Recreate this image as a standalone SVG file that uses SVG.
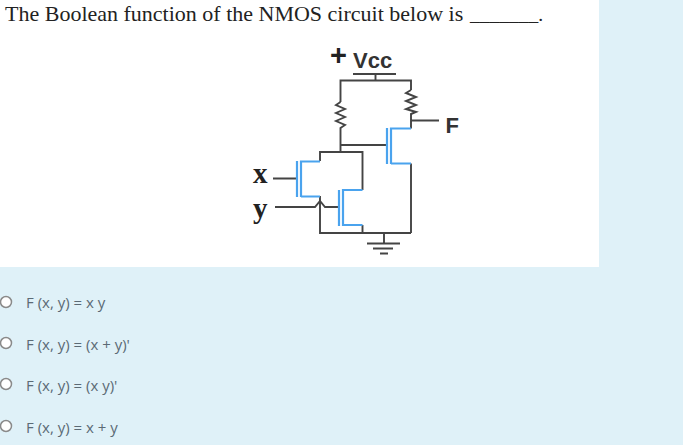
<svg xmlns="http://www.w3.org/2000/svg" width="683" height="445" viewBox="0 0 683 445">
<style>
.w{fill:none;stroke:#444;stroke-width:1.9}
.b{fill:none;stroke:#4aa3ee;stroke-width:2.2}
.o{font:15px "Open Sans",sans-serif;fill:#5b6a75}
.r{fill:#fff;stroke:#8a8a8a;stroke-width:1.5}
.s{font-family:"Liberation Sans",sans-serif;font-weight:bold;fill:#333}
.t{font-family:"Liberation Serif",serif;font-weight:bold;fill:#222}
.q{font-family:"Liberation Serif",serif;fill:#222}
</style>
<rect width="683" height="445" fill="#dff1f8"/>
<rect width="599" height="267" fill="#fff"/>
<g id="question"><text class="q" x="5" y="21" font-size="22">The Boolean function of the NMOS circuit below is</text><text class="q" x="470" y="21" font-size="19.500">_______.</text></g>
<g id="connectors">
<path class="w" d="M353 74H396M375.500 74V80.500M340.500 102V80.500H411V90"/>
<path class="w" d="M340.500 102L336 105L345 109L336 113L345 117L336 121L345 125L340.500 128V152"/>
<path class="w" d="M411 90L406 93L416 97L406 101L416 105L406 109L416 112L411 114V128.500M411 120.500H439"/>
<path class="w" d="M340.500 145H386M320 161V152H362.500V190M411 163.500V233M320 196V233H411M362.500 225V233"/>
<path class="w" d="M273 178.500H296M275 207H315L320 201L325 207H338"/>
<path class="w" d="M384 233V243M367 243.500H400M373 248.500H393M380 253.500H388"/>
<path class="b" d="M387 128V164M391 164V128.500H411M391 163.500H411"/>
<path class="b" d="M297 161V197M301 197V161.500H320M301 196.500H320"/>
<path class="b" d="M339 190V226M343 226V190H362.500M343 225H362.500"/>
</g>
<g id="vcc"><text x="330" y="65" font-family="Liberation Sans,sans-serif" font-size="29" fill="#222" font-weight="bold">+</text><text class="s" x="353" y="68" font-size="22">Vcc</text></g>
<g id="f"><text class="s" x="445.500" y="133" font-size="22">F</text></g>
<g id="x"><text class="t" x="253" y="183" font-size="29">x</text></g>
<g id="y"><text class="t" x="253" y="218" font-size="29">y</text></g>
<g id="opt1"><circle class="r" cx="6" cy="302" r="5.500"/><text class="o" x="26" y="308">F (x, y) = x y</text></g>
<g id="opt2"><circle class="r" cx="6" cy="343" r="5.500"/><text class="o" x="26" y="350">F (x, y) = (x + y)'</text></g>
<g id="opt3"><circle class="r" cx="6" cy="384" r="5.500"/><text class="o" x="26" y="391">F (x, y) = (x y)'</text></g>
<g id="opt4"><circle class="r" cx="6" cy="426" r="5.500"/><text class="o" x="26" y="433">F (x, y) = x + y</text></g>
</svg>
